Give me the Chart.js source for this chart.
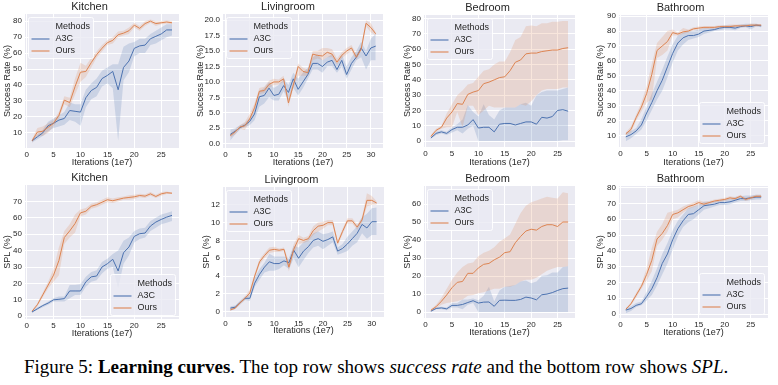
<!DOCTYPE html>
<html><head><meta charset="utf-8">
<script src="https://cdn.jsdelivr.net/npm/chart.js@4.4.0/dist/chart.umd.min.js"></script>
<style>
html,body{margin:0;padding:0;background:#fff;width:778px;height:385px;overflow:hidden;position:relative}
canvas{position:absolute}
#cap{position:absolute;left:24px;top:357px;font-family:'Liberation Serif','Times New Roman',serif;font-size:19px;line-height:19px;color:#000;white-space:nowrap}
</style></head><body>
<canvas id="p1"></canvas><canvas id="p2"></canvas><canvas id="p3"></canvas><canvas id="p4"></canvas>
<canvas id="p5"></canvas><canvas id="p6"></canvas><canvas id="p7"></canvas><canvas id="p8"></canvas>
<div id="cap">Figure 5: <b>Learning curves</b>. The top row shows <i>success rate</i> and the bottom row shows <i>SPL</i>.</div>
<script>
// ---------- categories / ticks ----------
const iters27 = [1,2,3,4,5,6,7,8,9,10,11,12,13,14,15,16,17,18,19,20,21,22,23,24,25,26,27];
const iters31 = [1,2,3,4,5,6,7,8,9,10,11,12,13,14,15,16,17,18,19,20,21,22,23,24,25,26,27,28,29,30,31];
const xTicks27 = [0,5,10,15,20,25];
const xTicks31 = [0,5,10,15,20,25,30];
const seriesNames = ['A3C','Ours'];
const titles = ['Kitchen','Livingroom','Bedroom','Bathroom','Kitchen','Livingroom','Bedroom','Bathroom'];
const yLabels = ['Success Rate (%)','Success Rate (%)','Success Rate (%)','Success Rate (%)','SPL (%)','SPL (%)','SPL (%)','SPL (%)'];
const legendTitle = 'Methods';
const xLabel = 'Iterations (1e7)';
const yTicksSRKitchen = [10,20,30,40,50,60,70,80];
const yTicksSRLiving = [0,2.5,5,7.5,10,12.5,15,17.5,20];
const yTicksSRBed = [0,10,20,30,40,50,60,70,80];
const yTicksSRBath = [10,20,30,40,50,60,70,80,90];
const yTicksSPLKitchen = [0,10,20,30,40,50,60,70];
const yTicksSPLLiving = [0,2,4,6,8,10,12];
const yTicksSPLBed = [0,10,20,30,40,50,60];
const yTicksSPLBath = [0,10,20,30,40,50,60,70,80];

// ---------- Success rate: Kitchen ----------
const srKitA = [5,7.5,10,14.5,16,18,19,24,23.5,23,32,36.5,38.5,44,46,48.5,37,51,55,63,64.5,65,69,70.5,72,74.5,74.5];
const srKitALo = [4,6,8,11,13,14,15,18,17,14.5,26,31,33,39,41,38,5,43,48,58,60,60,65,66,68,70,71];
const srKitAHi = [6,9,12,17,19,21,23,29,28,28,37,41,44,49,51,53,53,64,66,67,69,69,72,74,76,78,78];
const srKitO = [5,10.5,11,13.5,16,21,30.5,29,39,48,48.5,54,59,63,66.5,68,71.5,72.5,74,77.5,75.5,78.5,80,78.5,79,79.5,79];
const srKitOLo = [4,8,8,10,14,19,28,26,34,42,45,51,57,61,65,66,70,71,72,76,74,77,79,77,78,78.5,78];
const srKitOHi = [6,13,14,16,18,23,33,32,44,54,52,57,61,65,68,70,73.5,74,76,79,77,80,81,80,80,80.5,80];

// ---------- Success rate: Livingroom ----------
const srLivA = [1.5,2.0,2.6,3.0,3.6,4.8,7.6,7.8,9.0,7.8,8.0,9.4,8.3,10.5,8.8,10.0,11.2,13.0,13.0,12.5,13.2,13.5,12.0,13.5,11.2,13.0,14.0,15.5,14.2,15.5,15.8];
const srLivALo = [0.5,1.5,2.3,2.7,3.0,3.8,6.0,6.5,7.5,7.0,7.0,8.5,7.0,9.0,7.8,9.0,10.5,12.0,12.0,11.5,12.5,12.5,11.5,12.5,10.5,12.0,13.5,14.0,12.0,13.5,13.5];
const srLivAHi = [2.3,2.5,3.0,3.3,4.2,5.5,8.5,9.0,10.0,9.0,9.5,10.5,9.5,11.5,10.5,11.5,12.3,14.0,14.5,13.5,14.0,14.5,13.0,14.5,12.5,14.0,15.0,16.5,15.0,17.0,17.8];
const srLivO = [1.3,1.9,2.7,2.9,4.0,5.8,8.5,8.6,9.6,10.0,10.0,10.5,6.6,9.5,12.5,11.7,11.5,14.5,14.3,14.2,14.8,14.5,13.2,14.3,15.0,15.5,14.0,15.3,19.5,18.8,17.8];
const srLivOLo = [1.0,1.5,2.4,2.2,3.5,5.2,8.0,8.2,9.0,9.5,9.6,10.0,6.0,9.0,11.0,11.0,11.0,13.5,13.8,13.5,14.0,14.0,12.8,13.8,14.5,15.0,13.5,15.0,19.0,18.0,17.5];
const srLivOHi = [1.6,2.3,3.0,3.5,4.8,6.5,9.0,9.2,10.2,10.5,10.4,11.0,7.2,10.0,13.0,12.3,12.0,15.0,15.0,15.5,15.5,15.3,13.8,14.8,15.5,16.0,14.5,15.8,20.0,19.5,18.0];

// ---------- Success rate: Bedroom ----------
const srBedA = [2,5,6,5,7.5,9,9,10.5,14,8.5,9,9,6,11,11.5,11.5,10.5,11.5,12.5,12.5,11,15.5,15,16,20,20.5,19.5];
const srBedALo = [1.5,4,5,4,5.5,7,5,8,10,0,0,0,0,0,0,0,0,0,0,0,0,0,0,0,0,0.5,0.5];
const srBedAHi = [2.5,6,7,6,9,11,14,23.5,19,16,24,17,14,20,22,22,22,24,25,23,30,32,33,33,33,34,35];
const srBedO = [3,7,9,15,19,24.5,24,30.5,32,33,37.5,38.5,40,41.5,42,46,51.5,53,57,57.5,57.5,58.5,59,59.5,59.5,60.5,61];
const srBedOLo = [2,6,8,9,9,19,9,23,23,17,20,23,22,22,22,22,22,24,23,26,30,33,34,34,34,35,35];
const srBedOHi = [4,8,10,18,24,30,33,37,38,42,46,47,50,52,52,58,66,68,75,75.5,75,77,77,78,78,78.5,78.5];

// ---------- Success rate: Bathroom ----------
const srBathA = [9,10.5,13,17,25,32,40,47,56,65,72,75.5,77,77,78,80,80.5,81,82,82.5,82.5,82,83,83.5,83,84,83.5];
const srBathALo = [6,8,11,14,20,27,34,40,49,59,67,71,74,75,76,78,79,80,80.5,81,81,80.5,82,82.5,81,83,82.5];
const srBathAHi = [12,13,15,21,29,38,46,54,63,71,77,79,80,80,81,82,82,82.5,83.5,84,84,84,84.5,85,85,85,84.5];
const srBathO = [11,14,22,29,38,51,67,70,73,79,78,79.5,80,81.5,82,82.5,82.5,82.5,83,83,83,83.5,83.5,83.5,84,84,84];
const srBathOLo = [10,12,20,26,32,34,62,64,67,77,77,78,79,80.5,81,81.5,81.5,81.5,82,82,82,82.5,83,83,83,83,83.5];
const srBathOHi = [12,16,24,32,43,58,72,76,80,81,79,82,81,82.5,83,83.5,83.5,83.5,84,84,84.5,84.5,84.5,84.5,85,85,84.5];

// ---------- SPL: Kitchen ----------
const splKitA = [2.6,4.5,6.5,8,10,10.3,10.7,15.4,15.4,15.4,21,24,24.5,30,32,34.7,27.6,38.7,42.2,48.7,50.3,50.7,55,57.4,59,60.4,61.5];
const splKitALo = [2,4,5.5,7,9,9,9,11,13,13,18,21,22,26,29,30,17,32,37,45,47,48,52,54,56,57,58];
const splKitAHi = [3.5,5.5,7,9,11,12,12,19,19,19.5,24,27,28,33,35,38,40,46,48,52,53.5,54,58,60,62,63,64];
const splKitO = [3,7,13,19,25,34,48,52,56.5,63,64,67,68,69.5,71,70.4,71.2,72,72.4,72.8,73.6,73.2,74.6,73,74.6,75.3,75];
const splKitOLo = [2.5,6,11.5,17,21,25,44,48,51,61,62,65.5,66.5,68,69.5,69,70,71,71,71.5,72.5,72,73.5,72,73.5,74.5,74.5];
const splKitOHi = [3.5,8,14.5,21,29,42,52,56,62,65,66,68.5,69.5,71,72.5,71.8,72.5,73,73.8,74,74.7,74.4,75.7,74,75.7,76,75.5];

// ---------- SPL: Livingroom ----------
const splLivA = [0.4,0.5,1.0,1.5,1.5,3.2,4.2,5.0,5.6,5.4,5.4,5.7,5.5,6.9,6.0,6.8,7.3,8.0,8.2,7.9,8.1,8.4,6.8,7.1,7.6,8.2,8.8,9.8,9.4,10.1,10.1];
const splLivALo = [0.1,0.3,0.8,1.3,1.2,2.8,3.6,4.4,4.6,4.6,4.8,5.2,4.8,6.0,5.0,5.8,6.6,7.2,7.4,7.0,7.4,7.8,6.4,6.6,6.8,7.4,7.8,8.8,8.2,8.6,8.6];
const splLivAHi = [0.6,0.7,1.2,1.7,1.9,3.8,4.8,5.5,6.5,6.2,6.2,6.2,6.0,7.4,7.2,7.8,8.2,8.8,9.0,8.7,8.8,9.0,7.2,7.6,8.4,9.0,9.6,10.6,11.0,11.6,11.7];
const splLivO = [0.2,0.4,1.0,1.5,2.1,4.0,5.6,6.3,6.9,7.0,6.9,7.0,5.0,7.0,8.2,8.0,8.2,9.1,9.6,9.7,10.0,10.0,7.7,9.0,10.2,10.2,9.5,10.3,12.5,12.5,12.2];
const splLivOLo = [0.1,0.3,0.8,1.3,1.8,3.7,5.3,6.0,6.6,6.7,6.7,6.8,4.5,6.5,7.6,7.7,7.9,8.6,9.0,9.3,9.7,9.7,7.4,8.7,9.9,9.9,9.2,10.0,11.8,12.0,12.0];
const splLivOHi = [0.4,0.6,1.2,1.7,2.5,4.3,5.9,6.6,7.2,7.3,7.1,7.2,5.6,7.6,8.6,8.3,8.5,9.6,10.0,10.1,10.3,10.3,8.0,9.3,10.5,10.5,9.8,10.6,13.3,13.0,12.4];

// ---------- SPL: Bedroom ----------
const splBedA = [0.5,2,2.3,1.8,3.7,3.7,4.2,5.3,6.3,5,5.5,5.6,3.2,6.5,6.6,6.5,6.5,7,8.3,7.8,6.8,9.6,10,10.8,12,13,13.3];
const splBedALo = [0,1.5,1.5,1,2.5,2.5,1.5,4,5,0,0,0,0,0,0,0,0,0,0,0,0,0,0,0,0,0,0];
const splBedAHi = [1,2.5,3,2.5,5,5,7,7,7.5,6.5,9,14,6,12,14,14.5,15,17,17.5,16,17,20,20.5,22,22,25,25.5];
const splBedO = [1,3,6,9.5,13.5,16.5,17,21.5,21.5,24.5,26.5,27,29,30.5,33,33.5,38.5,42,45,46,45.5,47.5,48.5,48.5,47.5,50,50];
const splBedOLo = [0.5,2,4,5,5.5,6,7,9,9.5,10.5,11,12,13,13,14,14,15,17,18,18,19,21,23,24,25,25,25.5];
const splBedOHi = [1.5,4,8,13,18,22,25,27,27.5,31,33,34,36,39,41,43,49,55,59,61,62,63,64,63.5,63,66.5,66];

// ---------- SPL: Bathroom ----------
const splBathA = [2.5,3.5,5.5,6.5,11,16,23,32,38,47,54,59,63,63.5,66,68.5,69,69.5,70.5,70.5,71,72,73,73,73.5,74,74];
const splBathALo = [0.5,2,4.5,5.5,8.5,12,18,25,32,41,49,55,58,60,63,66,67,68,69,69,69.5,70.5,71.5,71.5,72,72.5,72.5];
const splBathAHi = [4,5,7,8,14,21,29,38,45,53,59,63,67,68,69,71,71,71.5,72,72.5,73,74,74.5,75,75,75.5,75.5];
const splBathO = [3,6.5,12,17.5,25,34,47.5,51,56,63,64,66,68,69,70.5,69.5,70.5,71.5,72,72.5,73.5,73,74.5,72.5,73.5,74.5,74.5];
const splBathOLo = [2.5,5.5,10.5,16,21,27,43,47,52,60,61,64,66.5,67.5,69,68.5,69.5,70.5,71,71.5,72.5,72,73.5,71.5,72.5,73.5,73.5];
const splBathOHi = [3.5,7.5,13.5,19,29,42,52,57,64,65,66,68,69.5,70.5,72,71,71.5,72.5,73,73.5,74.5,74,75.5,73.5,74.5,75.5,75.5];

// ---------- styling / layout (not data) ----------
const C_A = [76,114,176], C_O = [221,132,82];
const rgba = (c,a) => `rgba(${c[0]},${c[1]},${c[2]},${a})`;
Chart.defaults.font.family = "'Liberation Sans', Arial, sans-serif";
Chart.defaults.color = '#262626';

const bgPlugin = {
  id: 'bgPlot',
  beforeDraw(chart) {
    const {ctx, chartArea: a} = chart;
    ctx.save(); ctx.fillStyle = '#EAEAF2';
    ctx.fillRect(a.left, a.top, a.right - a.left, a.bottom - a.top);
    ctx.restore();
  }
};
const legendPlugin = {
  id: 'innerLegend',
  afterDatasetsDraw(chart, args, opts) {
    const {ctx, chartArea: a} = chart;
    const w = 65, h = 41, m = 3.5, r = 2;
    const x0 = opts.pos === 'br' ? a.right - m - w : a.left + m;
    const y0 = opts.pos === 'br' ? a.bottom - m - h : a.top + m;
    ctx.save();
    ctx.beginPath();
    ctx.moveTo(x0 + r, y0); ctx.lineTo(x0 + w - r, y0); ctx.arcTo(x0 + w, y0, x0 + w, y0 + r, r);
    ctx.lineTo(x0 + w, y0 + h - r); ctx.arcTo(x0 + w, y0 + h, x0 + w - r, y0 + h, r);
    ctx.lineTo(x0 + r, y0 + h); ctx.arcTo(x0, y0 + h, x0, y0 + h - r, r);
    ctx.lineTo(x0, y0 + r); ctx.arcTo(x0, y0, x0 + r, y0, r); ctx.closePath();
    ctx.fillStyle = 'rgba(234,234,242,0.8)'; ctx.fill();
    ctx.strokeStyle = 'rgba(255,255,255,0.9)'; ctx.lineWidth = 1; ctx.stroke();
    ctx.font = "9px 'Liberation Sans', Arial, sans-serif";
    ctx.fillStyle = '#262626'; ctx.textBaseline = 'middle'; ctx.textAlign = 'left';
    ctx.fillText(legendTitle, x0 + 27, y0 + 9);
    const cols = [C_A, C_O];
    seriesNames.forEach((n, i) => {
      const yy = y0 + 21.5 + i * 12;
      ctx.strokeStyle = rgba(cols[i], 1); ctx.lineWidth = 1.1;
      ctx.beginPath(); ctx.moveTo(x0 + 3, yy); ctx.lineTo(x0 + 21, yy); ctx.stroke();
      ctx.fillStyle = '#262626'; ctx.fillText(n, x0 + 27, yy);
    });
    ctx.restore();
  }
};

function pts(xs, ys) { return xs.map((v, i) => ({x: v, y: ys[i]})); }

function makeChart(id, box, idx, xs, xTicks, yTicks, dec, yRange, legendPos, A, ALo, AHi, O, OLo, OHi) {
  const cv = document.getElementById(id);
  cv.width = box.w; cv.height = box.h;
  cv.style.left = box.l + 'px'; cv.style.top = box.t + 'px';
  cv.style.width = box.w + 'px'; cv.style.height = box.h + 'px';
  const xMin = xs[0] - 0.05 * (xs[xs.length - 1] - xs[0]);
  const xMax = xs[xs.length - 1] + 0.05 * (xs[xs.length - 1] - xs[0]);
  const band = (c, a) => ({borderWidth: 0, borderColor: 'rgba(0,0,0,0)', pointRadius: 0, tension: 0, backgroundColor: rgba(c, a)});
  new Chart(cv, {
    type: 'line',
    data: {datasets: [
      Object.assign({label: 'A3C lo', data: pts(xs, ALo), fill: false, order: 3}, band(C_A, 0.2)),
      Object.assign({label: 'A3C hi', data: pts(xs, AHi), fill: '-1', order: 3}, band(C_A, 0.2)),
      Object.assign({label: 'Ours lo', data: pts(xs, OLo), fill: false, order: 2}, band(C_O, 0.2)),
      Object.assign({label: 'Ours hi', data: pts(xs, OHi), fill: '-1', order: 2}, band(C_O, 0.2)),
      {label: seriesNames[0], data: pts(xs, A), borderColor: rgba(C_A, 1), borderWidth: 1, pointRadius: 0, tension: 0, fill: false, order: 1},
      {label: seriesNames[1], data: pts(xs, O), borderColor: rgba(C_O, 1), borderWidth: 1, pointRadius: 0, tension: 0, fill: false, order: 0}
    ]},
    options: {
      responsive: false, animation: false, events: [],
      layout: {padding: {left: 0, right: 4, top: 0, bottom: 0}},
      plugins: {
        legend: {display: false}, tooltip: {enabled: false},
        title: {display: true, text: titles[idx], color: '#262626', font: {size: 11, weight: 'normal', lineHeight: 1.2}, padding: {top: box.tp, bottom: 0}},
        innerLegend: {pos: legendPos}
      },
      scales: {
        x: {
          type: 'linear', min: xMin, max: xMax,
          afterBuildTicks: s => { s.ticks = xTicks.map(v => ({value: v})); },
          afterFit: s => { s.height = box.xh; },
          ticks: {autoSkip: false, maxRotation: 0, padding: 2, font: {size: 8}, color: '#262626', callback: v => String(v)},
          grid: {color: '#ffffff', lineWidth: 1, drawTicks: false},
          border: {display: false},
          title: {display: true, text: xLabel, font: {size: 9, lineHeight: 1.2}, color: '#262626', padding: {top: 0, bottom: 0}}
        },
        y: {
          type: 'linear', min: yRange[0], max: yRange[1],
          afterBuildTicks: s => { s.ticks = yTicks.map(v => ({value: v})); },
          afterFit: s => { s.width = box.yw; },
          ticks: {autoSkip: false, padding: 3, font: {size: 8}, color: '#262626', callback: v => Number(v).toFixed(dec)},
          grid: {color: '#ffffff', lineWidth: 1, drawTicks: false},
          border: {display: false},
          title: {display: true, text: yLabels[idx], font: {size: 9, lineHeight: 1.2}, color: '#262626', padding: {top: 2.5, bottom: 0}}
        }
      }
    },
    plugins: [bgPlugin, legendPlugin]
  });
}

makeChart('p1', {l: 0,   t: 0,   w: 183, h: 168, yw: 25, xh: 20, tp: 0.8}, 0, iters27, xTicks27, yTicksSRKitchen, 0, [0.5, 84.5], 'tl', srKitA, srKitALo, srKitAHi, srKitO, srKitOLo, srKitOHi);
makeChart('p2', {l: 193, t: 0,   w: 194, h: 168, yw: 30, xh: 20, tp: 0.8}, 1, iters31, xTicks31, yTicksSRLiving, 1, [-0.7, 21], 'tl', srLivA, srLivALo, srLivAHi, srLivO, srLivOLo, srLivOHi);
makeChart('p3', {l: 400, t: 0,   w: 179, h: 168, yw: 24, xh: 21, tp: 1.8}, 2, iters27, xTicks27, yTicksSRBed, 0, [-3.9, 82.4], 'tl', srBedA, srBedALo, srBedAHi, srBedO, srBedOLo, srBedOHi);
makeChart('p4', {l: 593, t: 0,   w: 179, h: 168, yw: 26, xh: 21, tp: 1.8}, 3, iters27, xTicks27, yTicksSRBath, 0, [2.2, 90.8], 'br', srBathA, srBathALo, srBathAHi, srBathO, srBathOLo, srBathOHi);
makeChart('p5', {l: 0,   t: 171, w: 183, h: 168, yw: 25, xh: 20, tp: 0.8}, 4, iters27, xTicks27, yTicksSPLKitchen, 0, [-1.7, 80], 'br', splKitA, splKitALo, splKitAHi, splKitO, splKitOLo, splKitOHi);
makeChart('p6', {l: 199, t: 171, w: 189, h: 165, yw: 24, xh: 19, tp: 2.8}, 5, iters31, xTicks31, yTicksSPLLiving, 0, [-0.6, 14], 'tl', splLivA, splLivALo, splLivAHi, splLivO, splLivOLo, splLivOHi);
makeChart('p7', {l: 400, t: 171, w: 179, h: 167, yw: 24, xh: 20, tp: 1.8}, 6, iters27, xTicks27, yTicksSPLBed, 0, [-3.3, 70], 'tl', splBedA, splBedALo, splBedAHi, splBedO, splBedOLo, splBedOHi);
makeChart('p8', {l: 593, t: 171, w: 179, h: 167, yw: 26, xh: 20, tp: 1.8}, 7, iters27, xTicks27, yTicksSPLBath, 0, [-2.5, 81], 'br', splBathA, splBathALo, splBathAHi, splBathO, splBathOLo, splBathOHi);
</script>
</body></html>
